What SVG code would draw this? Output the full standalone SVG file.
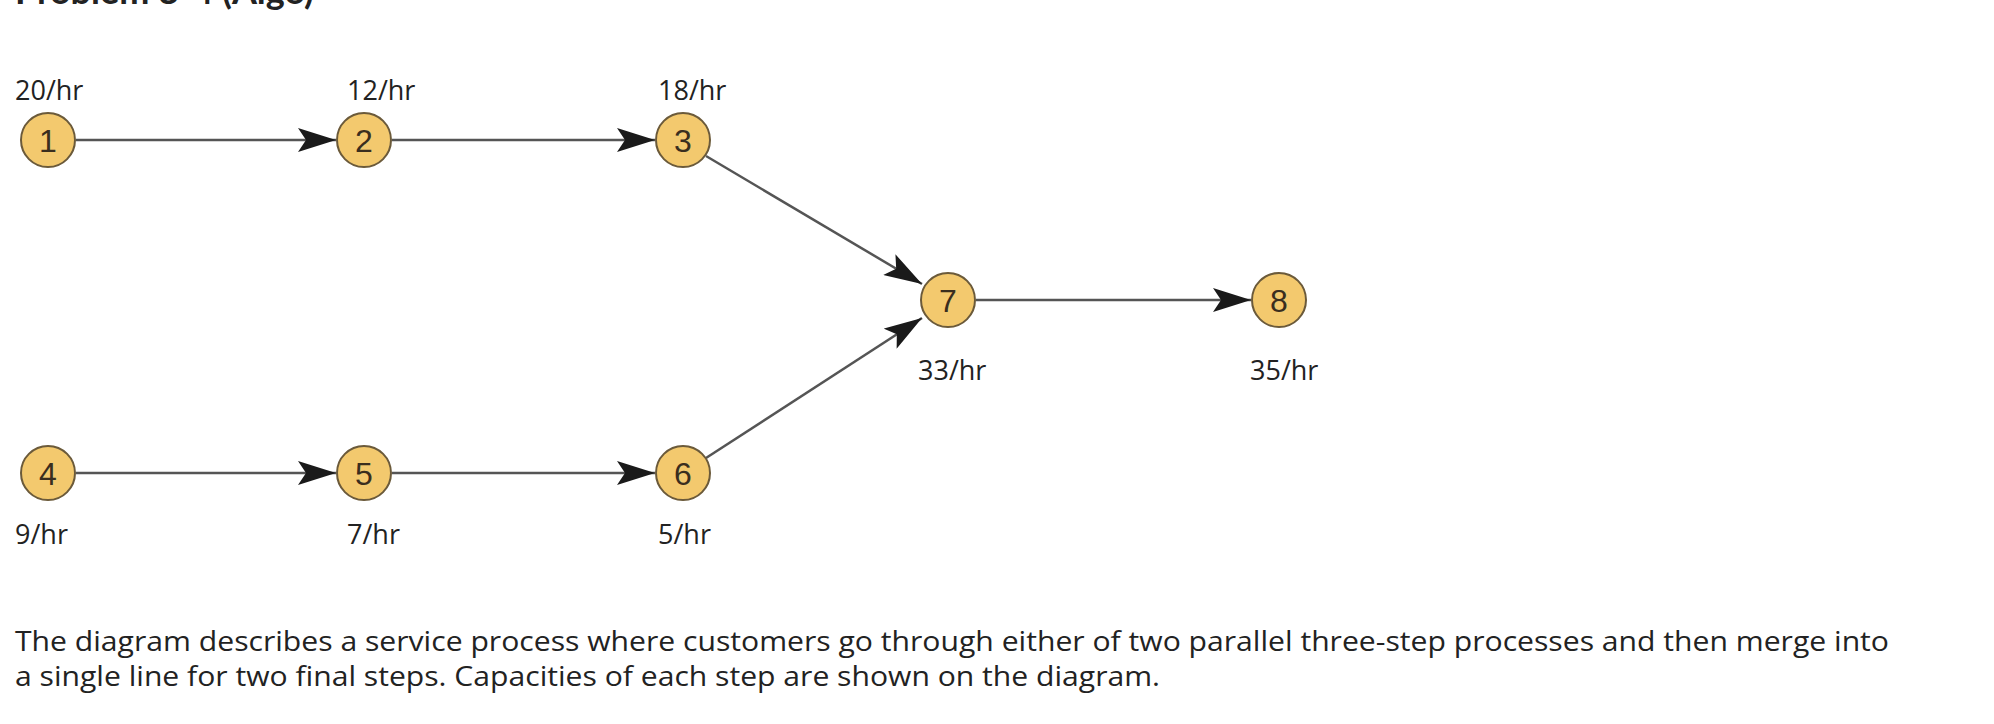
<svg xmlns="http://www.w3.org/2000/svg" width="1994" height="724" viewBox="0 0 1994 724">
<defs>
<style>
.n circle{fill:#f3c96e;stroke:#6b5a3a;stroke-width:2}
.n text{font-family:"Liberation Sans",Arial,sans-serif;font-size:32px;fill:#3a2e1e;text-anchor:middle}
.lbl{font-family:"Open Sans","Liberation Sans",sans-serif;font-size:27px;fill:#222}
.c line{stroke:#555;stroke-width:2.5;marker-end:url(#ah)}
.p{font-family:"Open Sans","Liberation Sans",sans-serif;font-size:28px;fill:#222}
</style>
<marker id="ah" markerUnits="userSpaceOnUse" markerWidth="40" markerHeight="24" refX="38" refY="12" orient="auto"><path d="M0,0 L38,12 L0,24 L8,12 Z" fill="#1a1a1a"/></marker>
</defs>
<rect width="1994" height="724" fill="#fff"/>
<text x="15" y="4" font-family="Lato,'Liberation Sans',sans-serif" font-weight="bold" font-size="36" fill="#222">Problem 8-4 (Algo)</text>
<g class="c">
<line x1="76" y1="140" x2="336" y2="140"/>
<line x1="392" y1="140" x2="655" y2="140"/>
<line x1="706" y1="156" x2="922" y2="284"/>
<line x1="76" y1="473" x2="336" y2="473"/>
<line x1="392" y1="473" x2="655" y2="473"/>
<line x1="706" y1="458" x2="922" y2="318"/>
<line x1="976" y1="300" x2="1251" y2="300"/>
</g>
<g id="n1" class="n"><circle cx="48" cy="140" r="27"/><text x="48" y="152">1</text></g>
<g id="n2" class="n"><circle cx="364" cy="140" r="27"/><text x="364" y="152">2</text></g>
<g id="n3" class="n"><circle cx="683" cy="140" r="27"/><text x="683" y="152">3</text></g>
<g id="n4" class="n"><circle cx="48" cy="473" r="27"/><text x="48" y="485">4</text></g>
<g id="n5" class="n"><circle cx="364" cy="473" r="27"/><text x="364" y="485">5</text></g>
<g id="n6" class="n"><circle cx="683" cy="473" r="27"/><text x="683" y="485">6</text></g>
<g id="n7" class="n"><circle cx="948" cy="300" r="27"/><text x="948" y="312">7</text></g>
<g id="n8" class="n"><circle cx="1279" cy="300" r="27"/><text x="1279" y="312">8</text></g>
<text class="lbl" x="15" y="100">20/hr</text>
<text class="lbl" x="347" y="100">12/hr</text>
<text class="lbl" x="658" y="100">18/hr</text>
<text class="lbl" x="15" y="544">9/hr</text>
<text class="lbl" x="347" y="544">7/hr</text>
<text class="lbl" x="658" y="544">5/hr</text>
<text class="lbl" x="918" y="380">33/hr</text>
<text class="lbl" x="1250" y="380">35/hr</text>
<text class="p" x="15" y="651" textLength="1874" lengthAdjust="spacingAndGlyphs">The diagram describes a service process where customers go through either of two parallel three-step processes and then merge into</text>
<text class="p" x="15" y="686" textLength="1145" lengthAdjust="spacingAndGlyphs">a single line for two final steps. Capacities of each step are shown on the diagram.</text>
</svg>
